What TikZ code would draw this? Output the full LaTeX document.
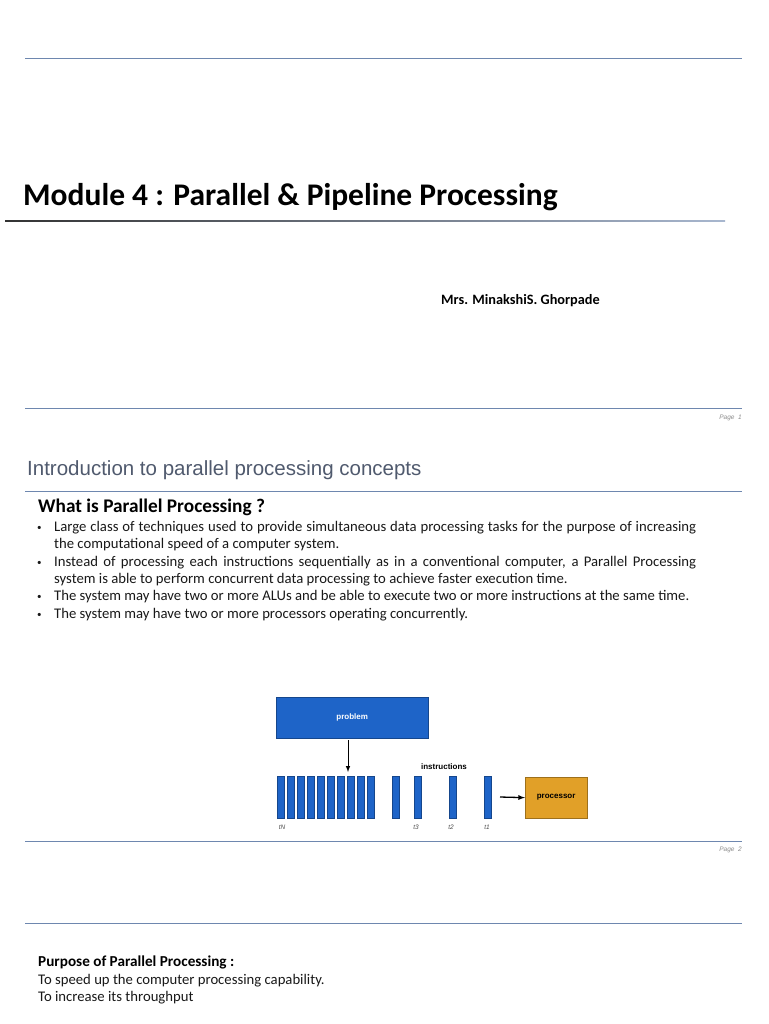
\documentclass[tikz,border=0pt]{standalone}
\usepackage{fontspec}
\setmainfont{Carlito}
\newfontfamily\arial{Liberation Sans}
\begin{document}
\begin{tikzpicture}[x=1pt,y=-1pt,
  rule/.style={draw=rulecol,line width=0.9pt},
  body/.style={anchor=base west,inner sep=0pt,font=\fontsize{14.7}{16}\selectfont,text=black!90},
  bul/.style={anchor=base west,inner sep=0pt,font=\fontsize{9}{10}\selectfont,text=black!90},
  pg/.style={anchor=base east,inner sep=0pt,font=\arial\fontsize{6.5}{7}\selectfont\itshape,text=black!45},
  bar/.style={fill=barblue,draw=barblue!70!black,line width=0.3pt},
  lab/.style={font=\arial\bfseries\fontsize{8}{9}\selectfont,inner sep=0pt},
  tl/.style={font=\arial\itshape\fontsize{6.5}{7}\selectfont,inner sep=0pt,text=black!70}]
\definecolor{rulecol}{RGB}{110,135,175}
\definecolor{barblue}{RGB}{30,100,200}
\definecolor{proc}{RGB}{225,160,40}
\definecolor{introcol}{RGB}{80,90,110}
\useasboundingbox (0,0) rectangle (768,1024);
\fill[white] (0,0) rectangle (768,1024);
\draw[rule] (25,58) -- (742,58);
\node[anchor=base west,inner sep=0pt,font=\bfseries\fontsize{31.5}{34}\selectfont] (title) at (23,206) {Module 4 : Parallel \& Pipeline Processing};
\shade[left color=black!80,right color=rulecol!60] (5,220.5) rectangle (725,222);
\node[anchor=base west,inner sep=0pt,font=\bfseries\fontsize{14.3}{16}\selectfont] (auth) at (441,304) {Mrs. MinakshiS. Ghorpade};
\draw[rule] (25,408) -- (742,408);
\node[pg] (p1) at (742,419) {Page\ \ 1};
\node[anchor=base west,inner sep=0pt,font=\arial\fontsize{20.5}{22}\selectfont,text=introcol] (intro) at (27,475) {Introduction to parallel processing concepts};
\draw[rule] (25,491) -- (742,491);
\node[anchor=base west,inner sep=0pt,font=\bfseries\fontsize{19.3}{21}\selectfont] (what) at (38,512) {What is Parallel Processing ?};
\node[bul] (b1) at (37,530) {•};
\node[body] (l1) at (54,531) {\makebox[642pt][s]{Large class of techniques used to provide simultaneous data processing tasks for the purpose of increasing}};
\node[body] (l1b) at (54,548) {the computational speed of a computer system.};
\node[bul] (b2) at (37,565) {•};
\node[body] (l2) at (54,566) {\makebox[642pt][s]{Instead of processing each instructions sequentially as in a conventional computer, a Parallel Processing}};
\node[body] (l2b) at (54,583) {system is able to perform concurrent data processing to achieve faster execution time.};
\node[bul] (b3) at (37,599) {•};
\node[body] (l3) at (54,600) {The system may have two or more ALUs and be able to execute two or more instructions at the same time.};
\node[bul] (b4) at (37,617) {•};
\node[body] (l4) at (54,618) {The system may have two or more processors operating concurrently.};
% diagram
\node[bar,minimum width=152pt,minimum height=41pt,inner sep=0pt,anchor=north west,text=white,font=\arial\bfseries\fontsize{8}{9}\selectfont] (prob) at (276,697) {problem};
\foreach \i in {0,...,9}{\node[bar,minimum width=6.5pt,minimum height=42pt,inner sep=0pt,anchor=north west] (c\i) at (277+\i*10,776) {};}
\node[bar,minimum width=6.5pt,minimum height=42pt,inner sep=0pt,anchor=north west] (s3) at (392,776) {};
\node[bar,minimum width=6.5pt,minimum height=42pt,inner sep=0pt,anchor=north west] (s2) at (414,776) {};
\node[bar,minimum width=6.5pt,minimum height=42pt,inner sep=0pt,anchor=north west] (s1) at (449,776) {};
\node[bar,minimum width=6.5pt,minimum height=42pt,inner sep=0pt,anchor=north west] (s0) at (484,776) {};
\node[fill=proc,draw=proc!70!black,line width=0.3pt,minimum width=62pt,minimum height=41pt,inner sep=0pt,anchor=north west,font=\arial\bfseries\fontsize{8}{9}\selectfont] (proc) at (525,777) {processor};
\coordinate (pa) at (348,740);
\coordinate (pb) at (348,772);
\draw[-latex,line width=1pt] (pa) -- (pb);
\coordinate (qa) at (500,797);
\draw[-latex,line width=1.3pt] (qa) -- (proc.west);
\node[lab] (ins) at (444,767) {instructions};
\node[tl] (tN) at (282,827) {tN};
\node[tl] (t3) at (416,827) {t3};
\node[tl] (t2) at (451,827) {t2};
\node[tl] (t1) at (487,827) {t1};
\draw[rule] (25,841) -- (742,841);
\node[pg] (p2) at (742,851) {Page\ \ 2};
\draw[rule] (25,923) -- (742,923);
\node[anchor=base west,inner sep=0pt,font=\bfseries\fontsize{15.2}{17}\selectfont] (pur) at (38,966) {Purpose of Parallel Processing :};
\node[body] (u1) at (38,984) {To speed up the computer processing capability.};
\node[body] (u2) at (38,1001) {To increase its throughput};
\end{tikzpicture}
\end{document}
